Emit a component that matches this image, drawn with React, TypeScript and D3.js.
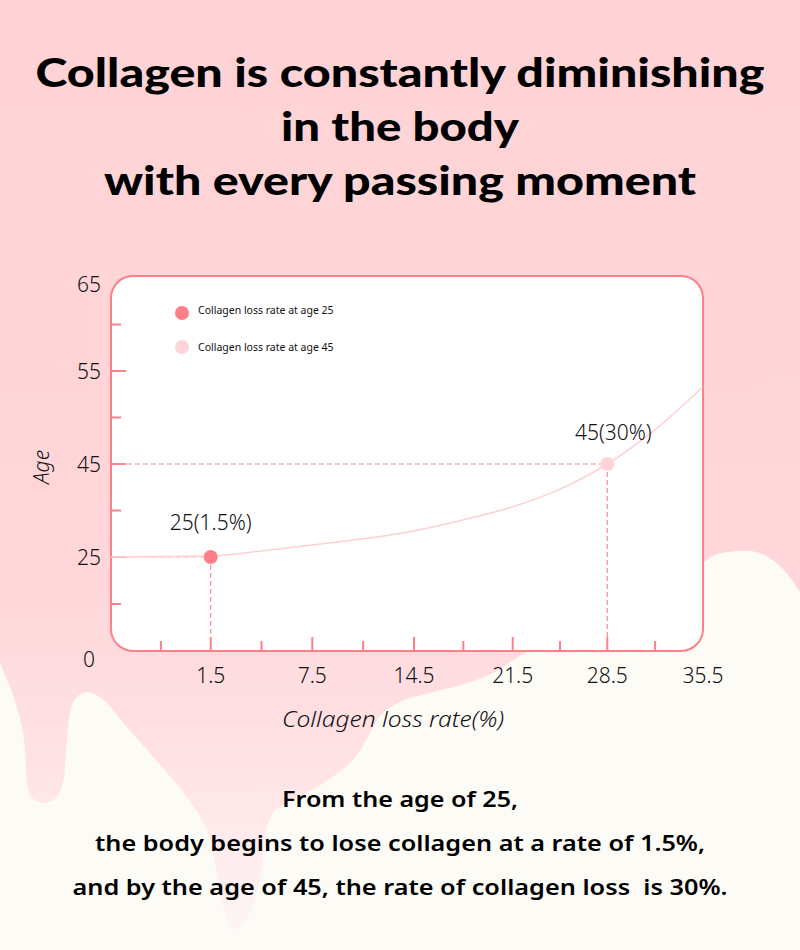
import React from "react";
import * as d3 from "d3";

// ---------- data ----------
const X_AXIS_VALUES = [0, 1.5, 7.5, 14.5, 21.5, 28.5, 35.5];
const X_TICK_LABELS = ["1.5", "7.5", "14.5", "21.5", "28.5", "35.5"];
const X_MAJOR_TICKS = [1.5, 7.5, 14.5, 21.5, 28.5];
const X_MINOR_TICKS = [0.75, 4.5, 11, 18, 25, 32];

const Y_AXIS_VALUES = [0, 25, 45, 55, 65];
const Y_TICK_LABELS = ["0", "25", "45", "55", "65"];
const Y_MAJOR_TICKS = [25, 45, 55];
const Y_MINOR_TICKS = [12.5, 35, 50, 60];

const CURVE_RATE = [0, 1.5, 4.5, 7.5, 11, 14.5, 18, 21.5, 25, 28.5, 32, 35.5];
const CURVE_AGE = [25, 25.2, 26.3, 27.6, 28.9, 30.6, 33.0, 35.8, 39.6, 45, 48.7, 53.3];

const POINT_RATE = [1.5, 28.5];
const POINT_AGE = [25, 45];
const POINT_LABELS = ["25(1.5%)", "45(30%)"];
const LEGEND_LABELS = ["Collagen loss rate at age 25", "Collagen loss rate at age 45"];

const TITLE_LINES = [
  "Collagen is constantly diminishing",
  "in the body",
  "with every passing moment",
];
const BOTTOM_LINES = [
  "From the age of 25,",
  "the body begins to lose collagen at a rate of 1.5%,",
  "and by the age of 45, the rate of collagen loss  is 30%.",
];

// ---------- layout ----------
const W = 800;
const H = 950;
const BOX = { left: 111, top: 276, right: 703, bottom: 651 };
const X_RANGE = [111, 210.7, 312.3, 414, 512.7, 607.3, 703];
const Y_RANGE = [651, 557, 464, 371, 278];

const POINT_COLORS = ["#FF7F87", "#FFD3D7"];
const AXIS_COLOR = "#FF7F87";
const FONT = "'Noto Sans', sans-serif";

const TITLE_WIDTHS = [729, 238, 592];
const TITLE_BASELINES = [87, 141, 195];
const BOTTOM_WIDTHS = [236, 610, 655];
const BOTTOM_BASELINES = [807, 851, 895];

// decorative drip outline (background)
const DRIP: [number, number][] = [
  [800, 592], [782, 568], [760, 553], [737, 551], [715, 555], [700, 565],
  [620, 610], [560, 640], [525, 653], [495, 672], [468, 683], [430, 693],
  [400, 702], [380, 716], [368, 737], [353, 760], [322, 784], [292, 800],
  [274, 812], [265, 835], [261, 873], [251, 910], [236, 930], [224, 910],
  [217, 873], [207, 830], [189, 800], [167, 773], [127, 727], [101, 698],
  [87, 692], [75, 699], [70, 713], [66, 750], [63, 783], [55, 799],
  [43, 803], [31, 797], [27, 783], [25, 750], [22, 727], [12, 692], [0, 663],
];

export default function App() {
  const x = d3.scaleLinear().domain(X_AXIS_VALUES).range(X_RANGE);
  const y = d3.scaleLinear().domain(Y_AXIS_VALUES).range(Y_RANGE);

  const dripLine = d3.line().curve(d3.curveCatmullRom.alpha(0.5))(DRIP) || "";
  const dripPath = "M0,0L800,0L" + dripLine.slice(1) + "L0,0Z";

  const curveData = CURVE_RATE.map((r, i) => [r, CURVE_AGE[i]] as [number, number]);
  const curvePath =
    d3
      .line<[number, number]>()
      .x((d) => x(d[0]))
      .y((d) => y(d[1]))
      .curve(d3.curveMonotoneX)(curveData) || "";

  return (
    <svg
      width={W}
      height={H}
      viewBox={`0 0 ${W} ${H}`}
      style={{ position: "absolute", left: 0, top: 0, display: "block" }}
    >
      <defs>
        <linearGradient id="pinkGrad" gradientUnits="userSpaceOnUse" x1="0" y1="0" x2="0" y2={H}>
          <stop offset="0" stopColor="#FFD3D6" />
          <stop offset="0.6" stopColor="#FFD6D9" />
          <stop offset="0.8" stopColor="#FFE2E5" />
          <stop offset="0.92" stopColor="#FFEEEF" />
          <stop offset="1" stopColor="#FDF8F5" />
        </linearGradient>
        <clipPath id="boxClip">
          <rect
            x={BOX.left}
            y={BOX.top}
            width={BOX.right - BOX.left}
            height={BOX.bottom - BOX.top}
            rx={22}
          />
        </clipPath>
      </defs>

      {/* background */}
      <rect x={0} y={0} width={W} height={H} fill="#FDFBF6" />
      <path d={dripPath} fill="url(#pinkGrad)" />

      {/* title */}
      {TITLE_LINES.map((t, i) => (
        <text
          key={t}
          x={W / 2}
          y={TITLE_BASELINES[i]}
          textAnchor="middle"
          fontFamily="Lato, sans-serif"
          fontWeight={900}
          fontSize={40}
          fill="#000"
          textLength={TITLE_WIDTHS[i]}
          lengthAdjust="spacingAndGlyphs"
        >
          {t}
        </text>
      ))}

      {/* chart box */}
      <rect
        x={BOX.left}
        y={BOX.top}
        width={BOX.right - BOX.left}
        height={BOX.bottom - BOX.top}
        rx={22}
        fill="#FFFFFF"
        stroke={AXIS_COLOR}
        strokeWidth={2}
      />

      {/* y ticks */}
      {Y_MAJOR_TICKS.map((v) => (
        <line key={"ym" + v} x1={BOX.left} x2={BOX.left + 15} y1={y(v)} y2={y(v)} stroke={AXIS_COLOR} strokeWidth={2} />
      ))}
      {Y_MINOR_TICKS.map((v) => (
        <line key={"yn" + v} x1={BOX.left} x2={BOX.left + 10} y1={y(v)} y2={y(v)} stroke={AXIS_COLOR} strokeWidth={2} />
      ))}
      {/* x ticks */}
      {X_MAJOR_TICKS.map((v) => (
        <line key={"xm" + v} x1={x(v)} x2={x(v)} y1={BOX.bottom} y2={BOX.bottom - 14} stroke={AXIS_COLOR} strokeWidth={2} />
      ))}
      {X_MINOR_TICKS.map((v) => (
        <line key={"xn" + v} x1={x(v)} x2={x(v)} y1={BOX.bottom} y2={BOX.bottom - 10} stroke={AXIS_COLOR} strokeWidth={2} />
      ))}

      {/* y tick labels */}
      {Y_AXIS_VALUES.map((v, i) => {
        const isZero = v === 0;
        const ty = Math.max(y(v), BOX.top + 8);
        return (
          <text
            key={"yl" + v}
            x={isZero ? 89 : 101}
            y={isZero ? y(v) + 16 : ty + 7.5}
            textAnchor={isZero ? "middle" : "end"}
            fontFamily={FONT}
            fontWeight={300}
            fontSize={21}
            fill="#111"
          >
            {Y_TICK_LABELS[i]}
          </text>
        );
      })}
      {/* x tick labels */}
      {X_AXIS_VALUES.slice(1).map((v, i) => (
        <text
          key={"xl" + v}
          x={x(v)}
          y={BOX.bottom + 32}
          textAnchor="middle"
          fontFamily={FONT}
          fontWeight={300}
          fontSize={21}
          fill="#111"
        >
          {X_TICK_LABELS[i]}
        </text>
      ))}

      {/* axis titles */}
      <text
        transform={`translate(49,${y(45) + 3}) rotate(-90)`}
        textAnchor="middle"
        fontFamily={FONT}
        fontStyle="italic"
        fontWeight={300}
        fontSize={21}
        fill="#111"
      >
        Age
      </text>
      <text
        x={393}
        y={727}
        textAnchor="middle"
        fontFamily={FONT}
        fontStyle="italic"
        fontWeight={300}
        fontSize={21}
        fill="#111"
        textLength={222}
        lengthAdjust="spacingAndGlyphs"
      >
        Collagen loss rate(%)
      </text>

      {/* guide lines */}
      {POINT_RATE.map((r, i) => (
        <g key={"g" + i}>
          <line
            x1={BOX.left}
            x2={x(r)}
            y1={y(POINT_AGE[i])}
            y2={y(POINT_AGE[i])}
            stroke={i === 0 ? "#FFB3B8" : "#FF8A91"}
            strokeWidth={1.2}
            strokeDasharray="5,3"
          />
          <line
            x1={x(r)}
            x2={x(r)}
            y1={y(POINT_AGE[i])}
            y2={BOX.bottom}
            stroke="#FF8A91"
            strokeWidth={1.2}
            strokeDasharray="5,3"
          />
        </g>
      ))}

      {/* curve */}
      <path d={curvePath} fill="none" stroke="#FFD0D4" strokeWidth={1.5} clipPath="url(#boxClip)" />

      {/* points */}
      {POINT_RATE.map((r, i) => (
        <circle key={"p" + i} cx={x(r)} cy={y(POINT_AGE[i])} r={7} fill={POINT_COLORS[i]} />
      ))}
      {POINT_RATE.map((r, i) => (
        <text
          key={"pl" + i}
          x={x(r) + (i === 0 ? 0 : 6)}
          y={y(POINT_AGE[i]) - (i === 0 ? 27 : 24)}
          textAnchor="middle"
          fontFamily={FONT}
          fontWeight={300}
          fontSize={21}
          fill="#111"
        >
          {POINT_LABELS[i]}
        </text>
      ))}

      {/* legend */}
      {LEGEND_LABELS.map((t, i) => (
        <g key={t}>
          <circle cx={182} cy={313 + i * 34} r={7} fill={POINT_COLORS[i]} />
          <text x={198} y={314 + i * 37} fontFamily={FONT} fontSize={10.5} fill="#111">
            {t}
          </text>
        </g>
      ))}

      {/* bottom text */}
      {BOTTOM_LINES.map((t, i) => (
        <text
          key={"b" + i}
          x={W / 2}
          y={BOTTOM_BASELINES[i]}
          textAnchor="middle"
          fontFamily={FONT}
          fontWeight={600}
          fontSize={21}
          fill="#000"
          textLength={BOTTOM_WIDTHS[i]}
          lengthAdjust="spacingAndGlyphs"
          style={{ whiteSpace: "pre" }}
        >
          {t}
        </text>
      ))}
    </svg>
  );
}
